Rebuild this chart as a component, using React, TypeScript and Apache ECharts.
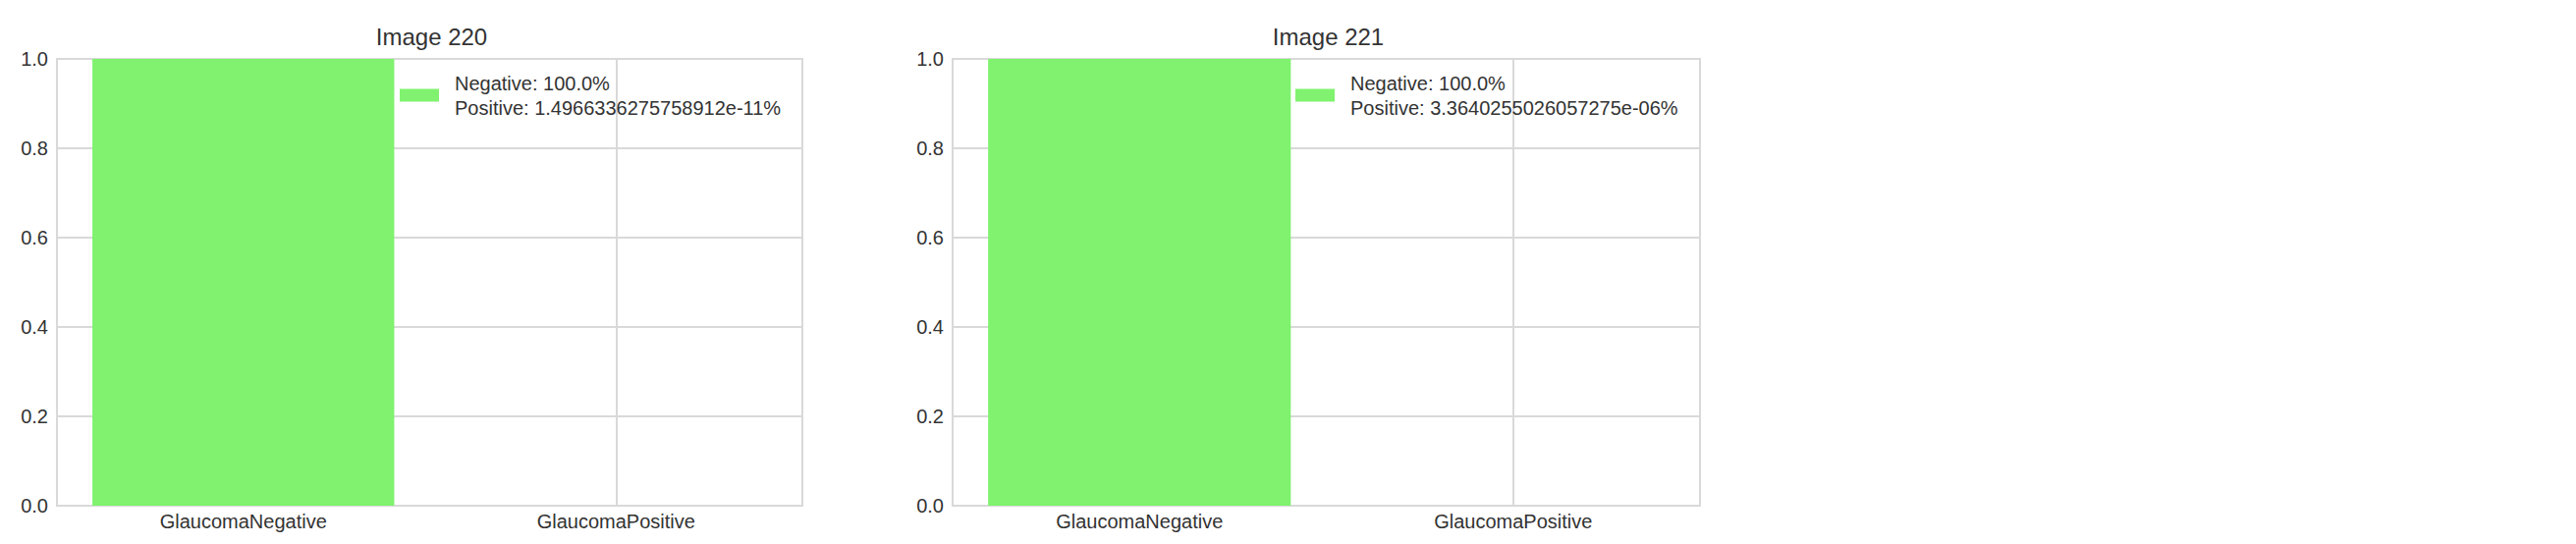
import React, { useEffect, useRef } from 'react'
import * as echarts from 'echarts'

const titles = ['Image 220', 'Image 221']
const categories = ['GlaucomaNegative', 'GlaucomaPositive']
const negativePct = [100.0, 100.0]
const positivePct = ['1.4966336275758912e-11', '3.3640255026057275e-06']
const yTicks = [0, 0.2, 0.4, 0.6, 0.8, 1.0]

const FONT = 'Liberation Sans'
const TEXT = '#333333'
const GRID = '#d9d9d9'
const BAR = '#80f26f'

// plot-area boxes (left edge / right edge) of the two panels
const panels = [
  { left: 58, right: 817 },
  { left: 970, right: 1731 },
]
const WIDTH = 2623
const HEIGHT = 554

const App = () => {
  const chartRef = useRef<HTMLDivElement | null>(null)

  useEffect(() => {
    if (!chartRef.current) return
    const myChart = echarts.init(chartRef.current, null, { renderer: 'svg' })

    const option = {
      animation: false,
      backgroundColor: '#ffffff',
      textStyle: { fontFamily: FONT, color: TEXT },
      title: panels.map((p, i) => ({
        text: titles[i],
        left: (p.left + p.right) / 2 + 2,
        top: 25,
        textAlign: 'center',
        padding: 0,
        textStyle: { fontFamily: FONT, fontSize: 24, fontWeight: 'normal', color: TEXT },
      })),
      legend: panels.map((p, i) => ({
        data: [titles[i]],
        left: p.left + 349,
        top: 72,
        padding: 0,
        icon: 'rect',
        itemWidth: 40,
        itemHeight: 13,
        selectedMode: false,
        formatter: () =>
          `Negative: ${negativePct[i].toFixed(1)}%\nPositive: ${positivePct[i]}%`,
        textStyle: {
          fontFamily: FONT,
          fontSize: 20,
          lineHeight: 25,
          color: TEXT,
          padding: [0, 0, 0, 11],
        },
      })),
      grid: panels.map((p) => ({
        left: p.left,
        right: WIDTH - p.right,
        top: 60,
        bottom: HEIGHT - 515,
        show: true,
        borderColor: GRID,
        borderWidth: 2,
        containLabel: false,
      })),
      xAxis: panels.map((_, i) => ({
        type: 'category',
        gridIndex: i,
        data: categories,
        axisLine: { show: false },
        axisTick: { show: false, alignWithLabel: true },
        axisLabel: { fontFamily: FONT, fontSize: 20, color: TEXT, margin: 6 },
        splitLine: {
          show: true,
          alignWithLabel: true,
          lineStyle: { color: GRID, width: 2 },
        },
      })),
      yAxis: panels.map((_, i) => ({
        type: 'value',
        gridIndex: i,
        min: yTicks[0],
        max: yTicks[yTicks.length - 1],
        interval: 0.2,
        axisLine: { show: false },
        axisTick: { show: false },
        axisLabel: {
          fontFamily: FONT,
          fontSize: 20,
          color: TEXT,
          margin: 9,
          formatter: (v: number) => v.toFixed(1),
        },
        splitLine: { show: true, lineStyle: { color: GRID, width: 2 } },
      })),
      series: panels.map((_, i) => ({
        name: titles[i],
        type: 'bar',
        xAxisIndex: i,
        yAxisIndex: i,
        barWidth: '81%',
        itemStyle: { color: BAR },
        data: [negativePct[i] / 100, Number(positivePct[i]) / 100],
      })),
    }

    myChart.setOption(option)

    return () => {
      myChart.dispose()
    }
  }, [])

  return (
    <div
      ref={chartRef}
      style={{ position: 'absolute', left: 0, top: 0, width: WIDTH, height: HEIGHT }}
    />
  )
}

export default App
